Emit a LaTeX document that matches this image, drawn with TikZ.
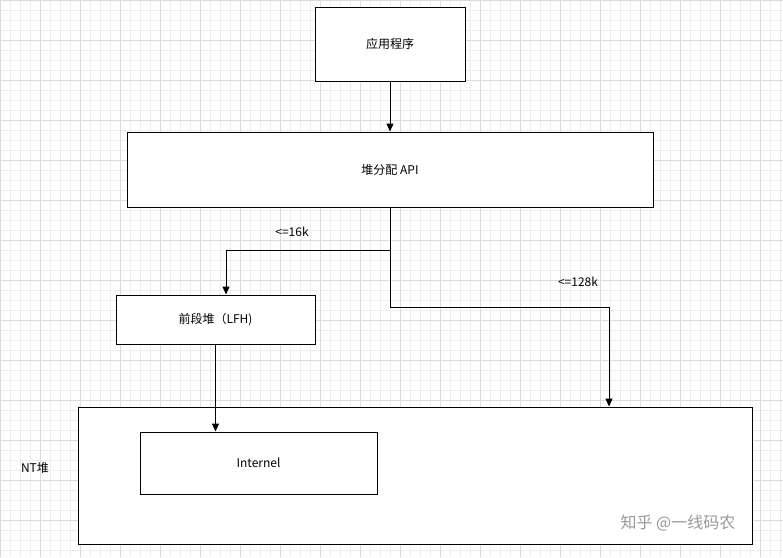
\documentclass[tikz,border=0pt]{standalone}
\usepackage{fontspec}
\setmainfont{Noto Sans CJK SC}
\usetikzlibrary{arrows.meta}
\tikzset{
  box/.style={draw=black, fill=white, line width=1pt, inner sep=0pt, font=\fontsize{12}{14}\selectfont},
  conn/.style={line width=1pt, -{Triangle[length=8pt,width=7pt]}},
  lbl/.style={font=\fontsize{12}{14}\selectfont}
}
\begin{document}
\begin{tikzpicture}[x=1pt,y=-1pt]
\useasboundingbox (0,0) rectangle (783,557);
\fill[white] (0,0) rectangle (783,557);
\draw[black!7, line width=0.4pt, step=10pt] (0,0) grid (783,557);
\draw[black!14, line width=0.4pt, step=40pt] (0,0) grid (783,557);
\node[box, minimum width=150pt, minimum height=74pt] (app) at (390,44) {应用程序};
\node[box, minimum width=526pt, minimum height=75pt] (api) at (390,169.5) {堆分配 API};
\node[box, minimum width=199pt, minimum height=49pt] (lfh) at (215.5,319.5) {前段堆（LFH)};
\node[box, minimum width=674pt, minimum height=137pt] (nt) at (415,475.5) {};
\node[box, minimum width=237pt, minimum height=62pt] (int) at (258.5,463) {Internel};
\node[lbl] (ntl) at (35,468) {NT堆};
\node[lbl] (l16) at (292,232) {<=16k};
\node[lbl] (l128) at (578,282) {<=128k};
\node[font=\fontsize{16}{18}\selectfont, text=black!40] (wm) at (678,523) {知乎 @一线码农};
\coordinate (j1) at (390,250);
\draw[conn] (app) -- (api);
\draw[conn] (api.south) -- (j1) -| (lfh.north -| 226,0);
\draw[conn] (j1) |- (609,307) -- (nt.north -| 609,0);
\draw[conn] (lfh.south) -- (int.north -| lfh.south);
\end{tikzpicture}
\end{document}
